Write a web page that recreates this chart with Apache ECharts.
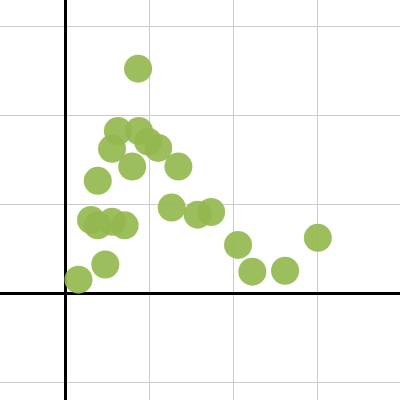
<!DOCTYPE html>
<html><head><meta charset="utf-8">
<script src="https://cdn.jsdelivr.net/npm/echarts@6/dist/echarts.min.js"></script>
<style>html,body{margin:0;padding:0;background:#fff;overflow:hidden}
#wrap{position:relative;width:400px;height:400px;overflow:hidden}
#c{position:absolute;left:-19px;top:-63px;width:420px;height:534px}</style>
</head><body><div id="wrap"><div id="c"></div></div>
<script>
var xs = [0.87,0.63,0.88,0.56,0.99,1.11,0.80,1.35,0.39,0.31,0.39,0.56,0.71,1.27,1.58,1.74,2.06,2.23,2.62,3.01,0.48,0.16];
var ys = [2.52,1.82,1.82,1.62,1.70,1.63,1.42,1.42,1.26,0.82,0.76,0.80,0.76,0.96,0.88,0.91,0.54,0.24,0.25,0.62,0.32,0.15];
var pts = xs.map(function(x, i){ return [x, ys[i]]; });
var chart = echarts.init(document.getElementById('c'));
var ax = {
  type: 'value', interval: 1,
  axisLine: {onZero: true, lineStyle: {color: '#000', width: 3}},
  axisTick: {show: false}, axisLabel: {show: false},
  splitLine: {lineStyle: {color: '#ccc', width: 1}}
};
chart.setOption({
  animation: false,
  grid: {left: 0, right: 0, top: 0, bottom: 0},
  xAxis: Object.assign({}, ax, {min: -1, max: 4}),
  yAxis: Object.assign({}, ax, {min: -2, max: 4}),
  series: [{
    type: 'scatter', data: pts, symbolSize: 28,
    itemStyle: {color: '#94b84f', opacity: 0.92}
  }]
});
</script></body></html>
